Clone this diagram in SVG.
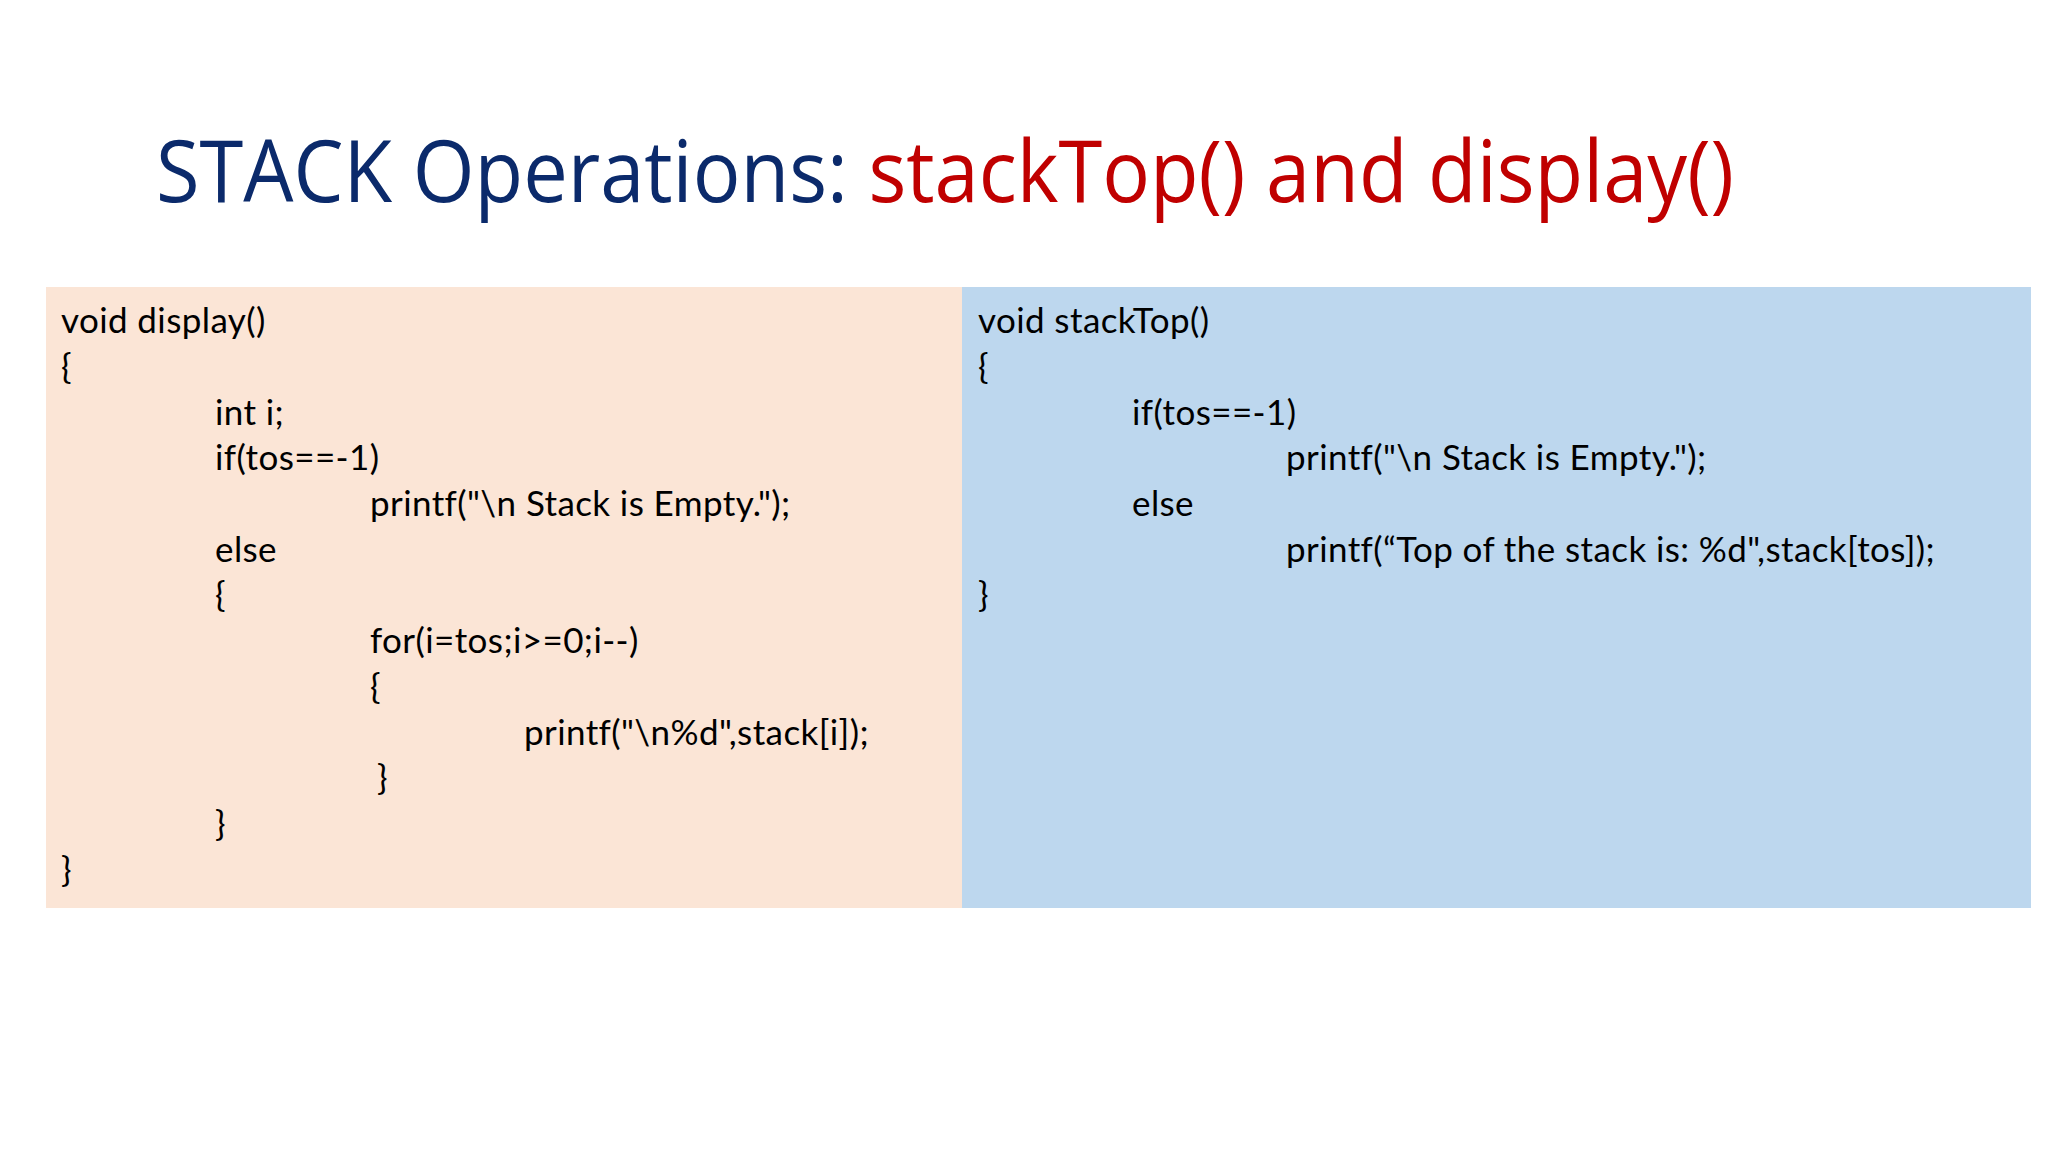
<svg xmlns="http://www.w3.org/2000/svg" width="2048" height="1152" viewBox="0 0 2048 1152">
<style>
.c{font-family:Lato,"Open Sans",sans-serif;font-size:35px;letter-spacing:0.4px;fill:#000}
.t{font-family:"Open Sans",Lato,sans-serif;font-size:86px;font-weight:500}
</style>
<rect width="2048" height="1152" fill="#fff"/>
<text class="t" x="156" y="202" textLength="1578" lengthAdjust="spacingAndGlyphs"><tspan fill="#0b2a6b">STACK Operations: </tspan><tspan fill="#c00000">stackTop() and display()</tspan></text>
<g id="display">
<rect x="46" y="287" width="916" height="621" fill="#fbe5d6"/>
<text class="c" x="61" y="333">void display()</text>
<text class="c" x="61" y="379">{</text>
<text class="c" x="215" y="425">int i;</text>
<text class="c" x="215" y="470">if(tos==-1)</text>
<text class="c" x="370" y="516">printf("\n Stack is Empty.");</text>
<text class="c" x="215" y="562">else</text>
<text class="c" x="215" y="607">{</text>
<text class="c" x="370" y="653">for(i=tos;i&gt;=0;i--)</text>
<text class="c" x="370" y="699">{</text>
<text class="c" x="524" y="745">printf("\n%d",stack[i]);</text>
<text class="c" x="377" y="790">}</text>
<text class="c" x="215" y="836">}</text>
<text class="c" x="61" y="882">}</text>
</g>
<g id="stackTop">
<rect x="962" y="287" width="1069" height="621" fill="#bdd7ee"/>
<text class="c" x="978" y="333">void stackTop()</text>
<text class="c" x="978" y="379">{</text>
<text class="c" x="1132" y="425">if(tos==-1)</text>
<text class="c" x="1286" y="470">printf("\n Stack is Empty.");</text>
<text class="c" x="1132" y="516">else</text>
<text class="c" x="1286" y="562">printf(“Top of the stack is: %d",stack[tos]);</text>
<text class="c" x="978" y="607">}</text>
</g>
<g id="connectors"/>
</svg>
